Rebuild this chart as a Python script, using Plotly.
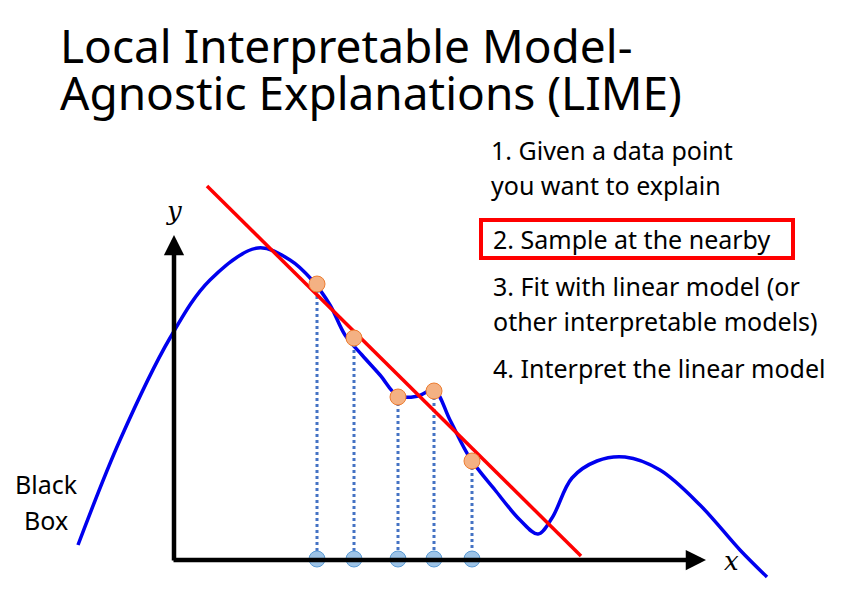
import plotly.graph_objects as go

# Data in diagram (pixel-like) coordinates
curve_x = [78, 120, 170, 210, 258, 290, 312, 330, 345, 362, 380, 398, 418, 434, 450, 470, 495, 520, 538, 552, 572, 597, 625, 660, 700, 740, 767]
curve_y = [545, 440, 338, 280, 248, 260, 280, 305, 335, 355, 375, 396, 396, 390, 420, 458, 490, 520, 534, 518, 478, 461, 457, 470, 505, 550, 577]
sample_x = [317, 354, 398, 434, 472]
sample_y = [284, 338, 397, 391, 461]
axis_y0 = 559
line_x = [207, 581]
line_y = [186, 556]
steps = ["1. Given a data point", "you want to explain", "2. Sample at the nearby",
         "3. Fit with linear model (or", "other interpretable models)", "4. Interpret the linear model"]
steps_pos = [(489, 150), (489, 185), (491, 239), (491, 286), (491, 321), (491, 368)]

fig = go.Figure()
fig.add_trace(go.Scatter(x=curve_x, y=curve_y, mode="lines", line=dict(color="#0000ee", width=3.5, shape="spline", smoothing=1.0)))
for sx, sy in zip(sample_x, sample_y):
    fig.add_trace(go.Scatter(x=[sx, sx], y=[sy, axis_y0], mode="lines", line=dict(color="#4472c4", width=3, dash="dot")))
fig.add_trace(go.Scatter(x=line_x, y=line_y, mode="lines", line=dict(color="#ff0000", width=3.5)))
fig.add_trace(go.Scatter(x=sample_x, y=sample_y, mode="markers", marker=dict(size=16, color="#f4b183", line=dict(color="#ed7d31", width=1))))
fig.add_trace(go.Scatter(x=sample_x, y=[axis_y0]*len(sample_x), mode="markers", marker=dict(size=16, color="#9dc3e6", line=dict(color="#5b9bd5", width=1))))

# axes arrows
fig.add_annotation(x=174, y=235, ax=174, ay=562, xref="x", yref="y", axref="x", ayref="y", showarrow=True, arrowhead=2, arrowsize=0.9, arrowwidth=4.5, arrowcolor="black", text="")
fig.add_annotation(x=706, y=560, ax=172, ay=560, xref="x", yref="y", axref="x", ayref="y", showarrow=True, arrowhead=2, arrowsize=0.9, arrowwidth=4.5, arrowcolor="black", text="")

font = "Noto Sans, Open Sans, sans-serif"
fig.add_annotation(x=58, y=45, text="Local Interpretable Model-", xanchor="left", yanchor="middle", showarrow=False, font=dict(size=46, family=font, color="black"))
fig.add_annotation(x=58, y=92, text="Agnostic Explanations (LIME)", xanchor="left", yanchor="middle", showarrow=False, font=dict(size=46, family=font, color="black"))
for t, (px, py) in zip(steps, steps_pos):
    fig.add_annotation(x=px, y=py, text=t, xanchor="left", yanchor="middle", showarrow=False, font=dict(size=25, family=font, color="black"))
fig.add_shape(type="rect", x0=481, y0=220, x1=793, y1=258, line=dict(color="#ff0000", width=4))
fig.add_annotation(x=46, y=484, text="Black", showarrow=False, font=dict(size=25, family=font, color="black"))
fig.add_annotation(x=46, y=520, text="Box", showarrow=False, font=dict(size=25, family=font, color="black"))
fig.add_annotation(x=174, y=211, text="<i>y</i>", showarrow=False, font=dict(size=26, family="DejaVu Serif", color="black"))
fig.add_annotation(x=731, y=561, text="<i>x</i>", showarrow=False, font=dict(size=26, family="DejaVu Serif", color="black"))

fig.update_layout(width=845, height=594, margin=dict(l=0, r=0, t=0, b=0), showlegend=False,
                  plot_bgcolor="white", paper_bgcolor="white")
fig.update_xaxes(range=[8, 853], visible=False, fixedrange=True)
fig.update_yaxes(range=[602, 8], visible=False, fixedrange=True)
fig.write_html("out.html")
